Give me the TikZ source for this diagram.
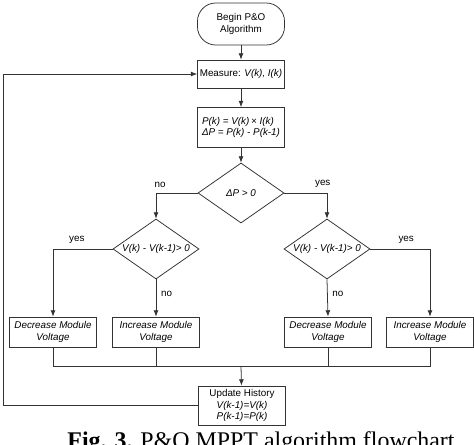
\documentclass[tikz,border=0pt]{standalone}
\usepackage{fontspec}
\setmainfont{Liberation Serif}
\newfontfamily\chartfont{Liberation Sans}
\usetikzlibrary{arrows.meta,shapes.geometric}

\begin{document}
\begin{tikzpicture}[x=0.025cm, y=-0.025cm,
  every node/.style={font=\chartfont\fontsize{7}{8.4}\selectfont},
  line/.style={draw=black!80, line width=0.55pt},
  arrow/.style={line, -{Latex[length=4.5pt,width=3.5pt]}},
  procbox/.style={line, rectangle, minimum width=2.175cm, inner sep=1pt, align=center},
  decision/.style={line, diamond, aspect=1.4, inner sep=0pt, minimum width=2.15cm, minimum height=1.5cm},
  startbox/.style={line, rectangle, rounded corners=13pt, minimum width=2.175cm, minimum height=1.05cm, align=center}]
\useasboundingbox (0,0) rectangle (474,445);

% Draw the main column
\node[startbox] (begin) at (241,24) {Begin P\&O\\Algorithm};
\node[procbox, minimum height=0.7cm] (meas) at (241,74) {Measure: \textit{V(k), I(k)}};
\node[procbox, minimum height=1cm, align=left] (power) at (241,127.5) {\textit{P(k) = V(k)}$\,$\textit{× I(k)}\\\textit{ΔP = P(k) - P(k-1)}};
\node[decision] (dp) at (241,193) {\textit{ΔP > 0}};

% Draw the two voltage tests
\node[decision] (dvl) at (156,249) {\textit{V(k) - V(k-1)> 0}};
\node[decision] (dvr) at (327,249) {\textit{V(k) - V(k-1)> 0}};

% Draw the four voltage steps
\foreach \i/\x/\t in {1/53/Decrease, 2/156/Increase, 3/328/Decrease, 4/430/Increase} {
    \node[procbox, minimum height=0.75cm] (step\i) at (\x,332) {\textit{\t\ Module}\\\textit{Voltage}};
}

\node[procbox, minimum height=0.975cm] (upd) at (242,405.5) {Update History\\\textit{V(k-1)=V(k)}\\\textit{P(k-1)=P(k)}};

% Draw the connectors
\draw[arrow] (begin) -- (meas);
\draw[arrow] (meas) -- (power);
\draw[arrow] (power) -- (dp);
\draw[arrow] (dp.west) -| node[above, pos=0.45] {no} (dvl.north);
\draw[arrow] (dp.east) -| node[above, pos=0.45] {yes} (dvr.north);
\draw[arrow] (dvl.west) -| node[above, pos=0.3] {yes} (step1.north);
\draw[arrow] (dvl.south) -- node[right, pos=0.4] {no} (step2.north);
\draw[arrow] (dvr.south) -- node[right, pos=0.4] {no} (step3.north);
\draw[arrow] (dvr.east) -| node[above, pos=0.3] {yes} (step4.north);

% Merge the four steps
\coordinate (join) at (241,366);
\foreach \i in {1,...,4} {
    \draw[line] (step\i.south) |- (join);
}
\draw[arrow] (join) -- (upd);

% Loop back to the measurement
\coordinate (loop) at (3,74);
\draw[arrow] (upd.west) -| (loop) -- (meas.west);

% Caption underneath
\node[font=\fontsize{17}{20}\selectfont, anchor=base] (caption) at (261,448) {\textbf{Fig. 3.} P\&O MPPT algorithm flowchart};
\end{tikzpicture}
\end{document}
